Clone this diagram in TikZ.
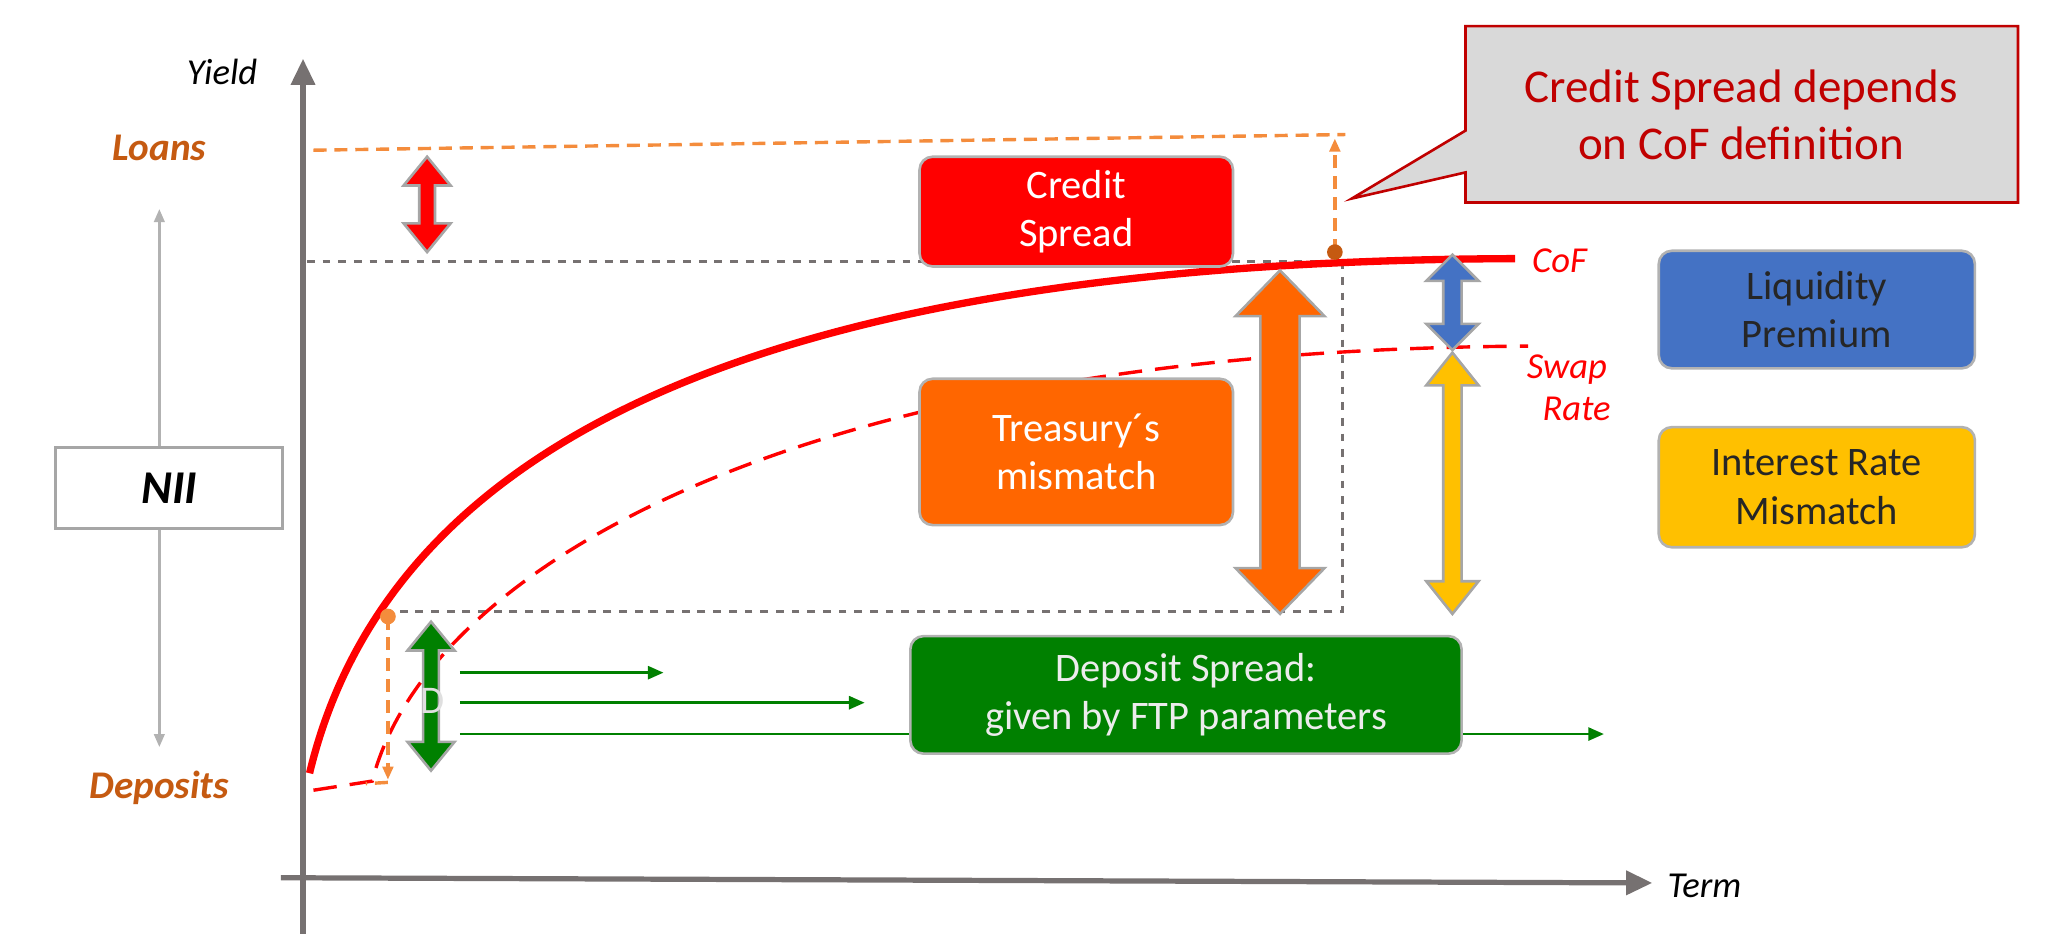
\documentclass[tikz,border=0pt]{standalone}
\usepackage{fontspec}
\setmainfont{Carlito}
\usetikzlibrary{arrows.meta}
\definecolor{axg}{RGB}{118,113,113}
\definecolor{lor}{RGB}{197,90,17}
\definecolor{dor}{RGB}{244,140,60}
\definecolor{cred}{RGB}{255,0,0}
\definecolor{tor}{RGB}{255,102,0}
\definecolor{dgr}{RGB}{0,128,0}
\definecolor{blu}{RGB}{68,114,196}
\definecolor{yel}{RGB}{255,192,0}
\definecolor{dred}{RGB}{192,0,0}
\definecolor{cgray}{RGB}{217,217,217}
\newcommand{\dblarr}[7]{% x, ytop, ybot, half shaft, half head, head len, color
 \draw[draw=gray!70, line width=1pt, fill=#7] (#1,#2) -- (#1+#5,#2+#6) -- (#1+#4,#2+#6) -- (#1+#4,#3-#6) -- (#1+#5,#3-#6) -- (#1,#3) -- (#1-#5,#3-#6) -- (#1-#4,#3-#6) -- (#1-#4,#2+#6) -- (#1-#5,#2+#6) -- cycle;}
\begin{document}
\begin{tikzpicture}[x=0.5pt,y=-0.5pt,
  box/.style={rounded corners=5pt, draw=gray!60, line width=1pt, align=center, font=\fontsize{15.5}{18.5}\selectfont, inner sep=0pt},
  lab/.style={font=\fontsize{14}{16}\selectfont\itshape},
  gdash/.style={axg, dashed, line width=1pt},
  odash/.style={dor, dash pattern=on 5pt off 3pt, line width=1.3pt},
  garr/.style={dgr, line width=1pt, -{Triangle[length=6pt,width=5pt]}}]
\useasboundingbox (0,0) rectangle (1568,718);
% axes
\draw[axg, line width=2pt, -{Triangle[length=10pt,width=9pt]}] (232,715) -- (232,45);
\draw[axg, line width=2pt, -{Triangle[length=10pt,width=9pt]}] (215,672) -- (1265,676);
\node[lab] (yl) at (170,55) {Yield};
\node[lab] (tl) at (1305,678) {Term};
\node[font=\fontsize{15}{18}\selectfont\bfseries\itshape, text=lor] (loans) at (122,113) {Loans};
\node[font=\fontsize{15}{18}\selectfont\bfseries\itshape, text=lor] (dep) at (122,603) {Deposits};
\node[draw=gray!70, line width=1pt, minimum width=87pt, minimum height=31pt, font=\fontsize{18}{21}\selectfont\bfseries\itshape] (nii) at (129.5,373.5) {NII};
\draw[gray!60, line width=1pt, -{Triangle[length=5pt,width=4pt]}] (nii.north -| 122,0) -- (122,160);
\draw[gray!60, line width=1pt, -{Triangle[length=5pt,width=4pt]}] (nii.south -| 122,0) -- (122,572);
% dashed guides
\draw[odash] (240,115) -- (1030,103);
\coordinate (cd) at (1022,193);
\coordinate (ct) at (1022,106);
\draw[odash, -{Triangle[length=5pt,width=4pt]}] (cd) -- (ct);
\draw[gdash] (235,200) -- (1020,200);
\draw[gdash] (1028,200) -- (1028,468) -- (300,468);
% curves
\draw[cred, line width=1.3pt, dash pattern=on 9pt off 5pt] (240,605) -- (285,598) .. controls (325,440) and (600,268) .. (1170,265);
\draw[cred, line width=2.8pt] (237,592) .. controls (300,330) and (600,200) .. (1160,198);
\coordinate (dd) at (297,472);
\coordinate (db) at (297,597);
\draw[odash, -{Triangle[length=5pt,width=4pt]}] (dd) -- (db);
\draw[odash] (297,599) -- (280,600);
\fill[dor] (dd) circle (3pt);
\fill[lor] (cd) circle (3pt);
% double arrows
\dblarr{327}{120}{193}{6}{18}{22}{cred}
\dblarr{330}{476}{590}{6}{18}{22}{dgr}
\node[text=gray!25, font=\fontsize{15}{18}\selectfont] (dl) at (331,537) {D};
\dblarr{980}{207}{470}{15}{34}{35}{tor}
\dblarr{1112}{195}{268}{7}{20}{20}{blu}
\dblarr{1112}{270}{470}{7}{20}{25}{yel}
% green arrows
\coordinate (g1) at (352,515); \coordinate (g1e) at (508,515);
\coordinate (g2) at (352,538); \coordinate (g2e) at (662,538);
\coordinate (g3) at (352,562); \coordinate (g3e) at (1228,562);
\draw[garr] (g1) -- (g1e);
\draw[garr] (g2) -- (g2e);
\draw[garr] (g3) -- (g3e);
% boxes
\node[box, fill=dgr, text=gray!15, minimum width=211pt, minimum height=45pt] (dsp) at (908,532) {Deposit Spread:\\given by FTP parameters};
\node[box, fill=cred, text=white, minimum width=120pt, minimum height=42pt] (csp) at (824,162) {Credit\\Spread};
\node[box, fill=tor, text=white, minimum width=120pt, minimum height=56pt] (tm) at (824,346) {Treasury´s\\mismatch};
\node[box, fill=blu, text=black!85, minimum width=121pt, minimum height=45pt] (lp) at (1391,237) {Liquidity\\Premium};
\node[box, fill=yel, text=black!85, minimum width=121pt, minimum height=46pt] (irm) at (1391,373) {Interest Rate\\Mismatch};
\node[lab, text=cred, anchor=west] (cof) at (1166,200) {CoF};
\node[lab, text=cred, anchor=west, align=left] (swp) at (1162,297) {Swap\\\hspace*{6pt}Rate};
% callout
\draw[dred, line width=1pt, fill=cgray] (1122,20) -- (1545,20) -- (1545,155) -- (1122,155) -- (1122,132) -- (1035,152) -- (1122,100) -- cycle;
\node[text=dred, align=center, font=\fontsize{18}{22}\selectfont] (call) at (1333,88) {Credit Spread depends\\on CoF definition};
\end{tikzpicture}
\end{document}
